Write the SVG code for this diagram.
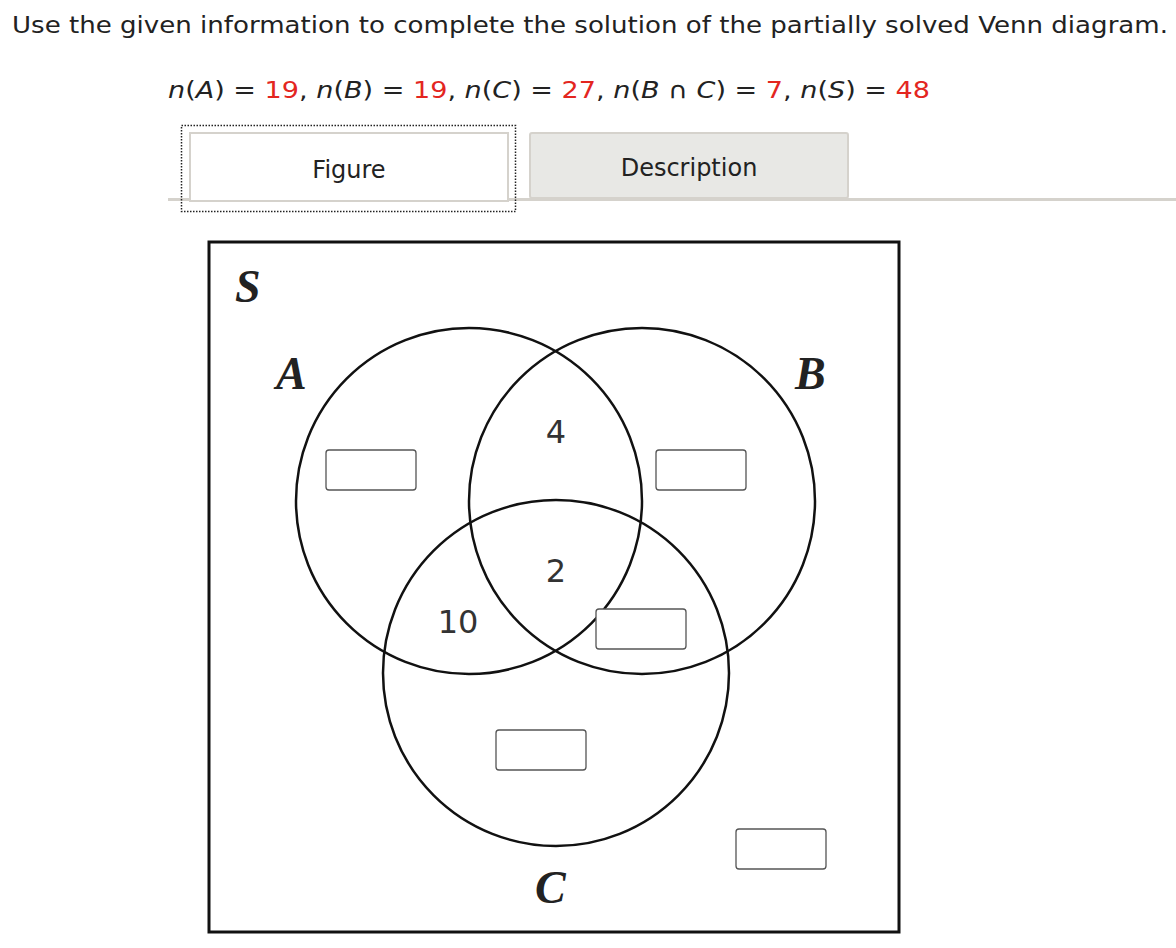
<svg xmlns="http://www.w3.org/2000/svg" width="1176" height="948" viewBox="0 0 1176 948">
<style>
.t{font-family:"DejaVu Sans",Verdana,sans-serif;fill:#222}
.r{fill:#e3261f}
.lbl{font-family:"Liberation Serif",serif;font-weight:bold;font-style:italic;font-size:46px;fill:#222}
.num{font-family:"DejaVu Sans",sans-serif;font-size:32px;fill:#333;text-anchor:middle}
.c{fill:none;stroke:#111;stroke-width:2.5}
.box{fill:#fff;stroke:#555;stroke-width:1.3}
</style>
<rect width="1176" height="948" fill="#fff"/>
<text class="t" x="12" y="33" font-size="23" textLength="1156" lengthAdjust="spacingAndGlyphs">Use the given information to complete the solution of the partially solved Venn diagram.</text>
<text class="t" x="168" y="98" font-size="23" textLength="762" lengthAdjust="spacingAndGlyphs" xml:space="preserve"><tspan font-style="italic">n</tspan>(<tspan font-style="italic">A</tspan>) = <tspan class="r">19</tspan>, <tspan font-style="italic">n</tspan>(<tspan font-style="italic">B</tspan>) = <tspan class="r">19</tspan>, <tspan font-style="italic">n</tspan>(<tspan font-style="italic">C</tspan>) = <tspan class="r">27</tspan>, <tspan font-style="italic">n</tspan>(<tspan font-style="italic">B</tspan> ∩ <tspan font-style="italic">C</tspan>) = <tspan class="r">7</tspan>, <tspan font-style="italic">n</tspan>(<tspan font-style="italic">S</tspan>) = <tspan class="r">48</tspan></text>
<g id="tabs">
<line x1="168" y1="199.5" x2="1176" y2="199.5" stroke="#d5d2cc" stroke-width="3"/>
<rect x="190" y="133" width="318" height="68" fill="#fff" stroke="#d5d2cc" stroke-width="2"/>
<rect x="181.5" y="125.5" width="334" height="86" fill="none" stroke="#222" stroke-width="1.5" stroke-dasharray="1.5,1.5"/>
<text class="t" x="349" y="178" font-size="24" text-anchor="middle" fill="#333">Figure</text>
<rect x="530" y="133" width="318" height="65" rx="2" fill="#e8e8e5" stroke="#d5d2cc" stroke-width="2"/>
<text class="t" x="689" y="176" font-size="24" text-anchor="middle" fill="#333">Description</text>
</g>
<g id="universe"><rect x="209" y="242" width="690" height="690" fill="none" stroke="#111" stroke-width="3"/></g>
<g id="A"><circle class="c" cx="469" cy="501" r="173"/></g>
<g id="B"><circle class="c" cx="642" cy="501" r="173"/></g>
<g id="C"><circle class="c" cx="556" cy="673" r="173"/></g>
<text class="lbl" x="235" y="302">S</text>
<text class="lbl" x="276" y="389">A</text>
<text class="lbl" x="795" y="389">B</text>
<text class="lbl" x="535" y="903">C</text>
<text class="num" x="556" y="443">4</text>
<text class="num" x="556" y="582">2</text>
<text class="num" x="458" y="633">10</text>
<g id="inputs">
<rect class="box" x="326" y="450" width="90" height="40" rx="3"/>
<rect class="box" x="656" y="450" width="90" height="40" rx="3"/>
<rect class="box" x="596" y="609" width="90" height="40" rx="3"/>
<rect class="box" x="496" y="730" width="90" height="40" rx="3"/>
<rect class="box" x="736" y="829" width="90" height="40" rx="3"/>
</g>
</svg>
